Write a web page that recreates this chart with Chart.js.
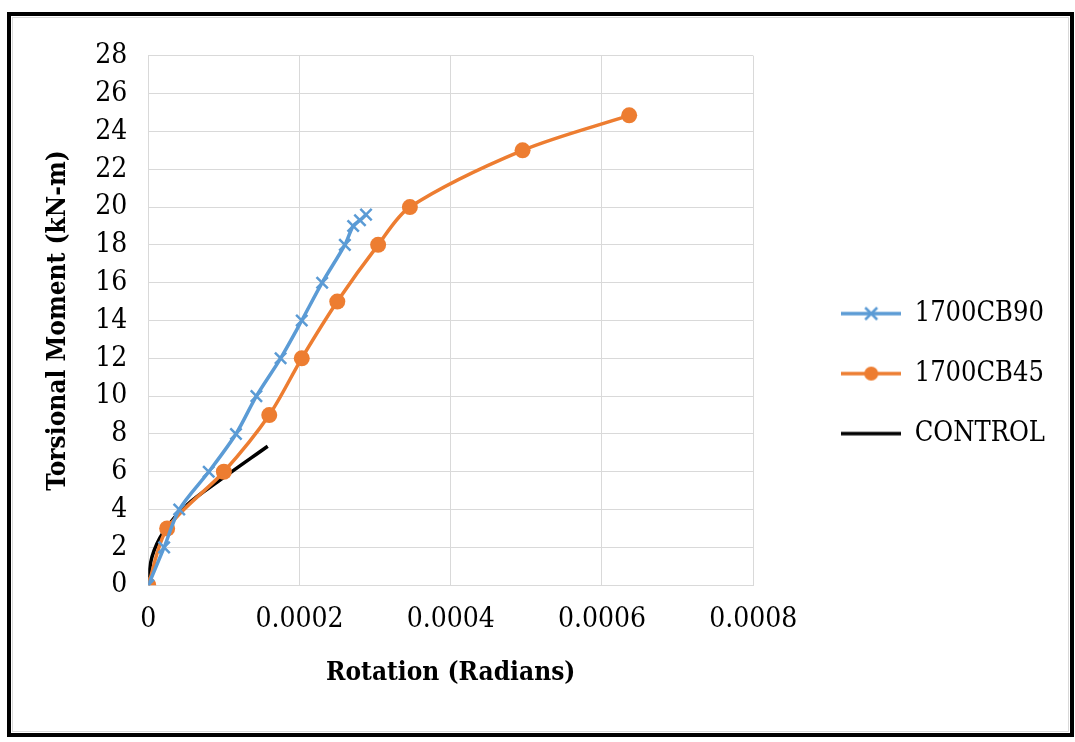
<!DOCTYPE html>
<html>
<head>
<meta charset="utf-8">
<script src="https://cdn.jsdelivr.net/npm/chart.js@4.4.1/dist/chart.umd.min.js"></script>
<style>
  html, body { margin: 0; padding: 0; background: #fff; }
  #frame {
    position: absolute; left: 7px; top: 12px; width: 1059px; height: 717px;
    border: 4px solid #000; background: #fff;
  }
  #inner {
    position: absolute; left: 1px; top: 1px; right: 1px; bottom: 1px;
    border: 1px solid #d9d9d9;
  }
  #wrap { position: absolute; left: 0; top: 0; width: 1055px; height: 713px; }
</style>
</head>
<body>
<div id="frame"><div id="inner"><div id="wrap"><canvas id="torsionChart"></canvas></div></div></div>
<script>
// values
var cb90Rotation = [0, 0.000021, 0.000041, 0.00008, 0.000116, 0.000143, 0.000175, 0.000203, 0.00023, 0.00026, 0.000271, 0.00028, 0.000288];
var cb90Moment   = [0, 2, 4, 6, 8, 10, 12, 14, 16, 18, 19, 19.3, 19.6];

var cb45Rotation = [0, 0.000025, 0.0001, 0.00016, 0.000203, 0.00025, 0.000304, 0.000346, 0.000495, 0.000636];
var cb45Moment   = [0, 3, 6, 9, 12, 15, 18, 20, 23, 24.85];

var controlRotation = [0, 0.000005, 0.00002, 0.00005, 0.0001, 0.000158];
var controlMoment   = [0, 1.5, 2.8, 4.2, 5.7, 7.35];

var seriesNames = ['1700CB90', '1700CB45', 'CONTROL'];
var xTicks = [0, 0.0002, 0.0004, 0.0006, 0.0008];
var yTicks = [0, 2, 4, 6, 8, 10, 12, 14, 16, 18, 20, 22, 24, 26, 28];

var BLUE = '#5b9bd5', ORANGE = '#ed7d31', BLACK = '#000000';
var FONT = "'DejaVu Serif Condensed', 'DejaVu Serif', serif";

function toPoints(xs, ys) {
  return xs.map(function(x, i) { return { x: x, y: ys[i] }; });
}

// legend swatch: line with marker, like Excel
function swatch(color, marker) {
  var c = document.createElement('canvas');
  c.width = 60; c.height = 20;
  var ctx = c.getContext('2d');
  ctx.strokeStyle = color;
  ctx.fillStyle = color;
  ctx.lineWidth = 3.5;
  ctx.beginPath(); ctx.moveTo(0, 10); ctx.lineTo(60, 10); ctx.stroke();
  if (marker === 'cross') {
    ctx.lineWidth = 2.5;
    ctx.beginPath();
    ctx.moveTo(24, 4); ctx.lineTo(36, 16);
    ctx.moveTo(36, 4); ctx.lineTo(24, 16);
    ctx.stroke();
  } else if (marker === 'circle') {
    ctx.beginPath(); ctx.arc(30, 10, 7, 0, Math.PI * 2); ctx.fill();
  }
  return c;
}
var legendIcons = [swatch(BLUE, 'cross'), swatch(ORANGE, 'circle'), swatch(BLACK, null)];

var chart = new Chart(document.getElementById('torsionChart'), {
  type: 'scatter',
  data: {
    datasets: [{
      label: seriesNames[0],
      data: toPoints(cb90Rotation, cb90Moment),
      showLine: true,
      borderColor: BLUE,
      backgroundColor: BLUE,
      borderWidth: 3.5,
      tension: 0.3,
      pointStyle: 'crossRot',
      pointRadius: 8,
      pointBorderWidth: 2.5
    }, {
      label: seriesNames[1],
      data: toPoints(cb45Rotation, cb45Moment),
      showLine: true,
      borderColor: ORANGE,
      backgroundColor: ORANGE,
      borderWidth: 3.5,
      tension: 0.3,
      pointStyle: 'circle',
      pointRadius: 8,
      pointBorderWidth: 0
    }, {
      label: seriesNames[2],
      data: toPoints(controlRotation, controlMoment),
      showLine: true,
      borderColor: BLACK,
      backgroundColor: BLACK,
      borderWidth: 3.5,
      tension: 0.4,
      pointRadius: 0
    }]
  },
  options: {
    responsive: true,
    maintainAspectRatio: false,
    animation: false,
    layout: { padding: { left: 26, right: 13, top: 21, bottom: 38 } },
    plugins: {
      tooltip: { enabled: false },
      legend: {
        position: 'right',
        // empty title only nudges the entries down a little
        title: { display: true, text: '', color: '#000', padding: 7, font: { size: 1 } },
        labels: {
          usePointStyle: true,
          pointStyleWidth: 60,
          boxHeight: 20,
          padding: 33,
          color: '#000',
          font: { family: FONT, size: 27 },
          generateLabels: function(ch) {
            return ch.data.datasets.map(function(ds, i) {
              return {
                text: ds.label,
                fontColor: '#000',
                pointStyle: legendIcons[i],
                fillStyle: ds.borderColor,
                strokeStyle: ds.borderColor,
                lineWidth: 0,
                datasetIndex: i,
                hidden: false
              };
            });
          }
        }
      }
    },
    scales: {
      x: {
        type: 'linear',
        min: xTicks[0],
        max: xTicks[xTicks.length - 1],
        afterBuildTicks: function(axis) { axis.ticks = xTicks.map(function(v) { return { value: v }; }); },
        ticks: {
          color: '#000',
          padding: 18,
          font: { family: FONT, size: 28 },
          callback: function(v) { return v === 0 ? '0' : Number(v).toFixed(4); }
        },
        grid: { color: '#d9d9d9', lineWidth: 1, drawTicks: false },
        border: { color: '#d9d9d9' },
        title: {
          display: true,
          text: 'Rotation (Radians)',
          color: '#000',
          padding: { top: 3 },
          font: { family: FONT, size: 26, weight: 'bold' }
        }
      },
      y: {
        type: 'linear',
        min: yTicks[0],
        max: yTicks[yTicks.length - 1],
        afterBuildTicks: function(axis) { axis.ticks = yTicks.map(function(v) { return { value: v }; }); },
        ticks: {
          color: '#000',
          padding: 21,
          font: { family: FONT, size: 28 }
        },
        grid: { color: '#d9d9d9', lineWidth: 1, drawTicks: false },
        border: { color: '#d9d9d9' },
        title: {
          display: true,
          text: 'Torsional Moment (kN-m)',
          color: '#000',
          padding: { bottom: 0 },
          font: { family: FONT, size: 26, weight: 'bold' }
        }
      },
      // hidden axis that only keeps the gap between plot and legend
      gap: {
        type: 'linear',
        position: 'right',
        display: false,
        afterFit: function(axis) { axis.width = 55; }
      }
    }
  }
});
</script>
</body>
</html>
